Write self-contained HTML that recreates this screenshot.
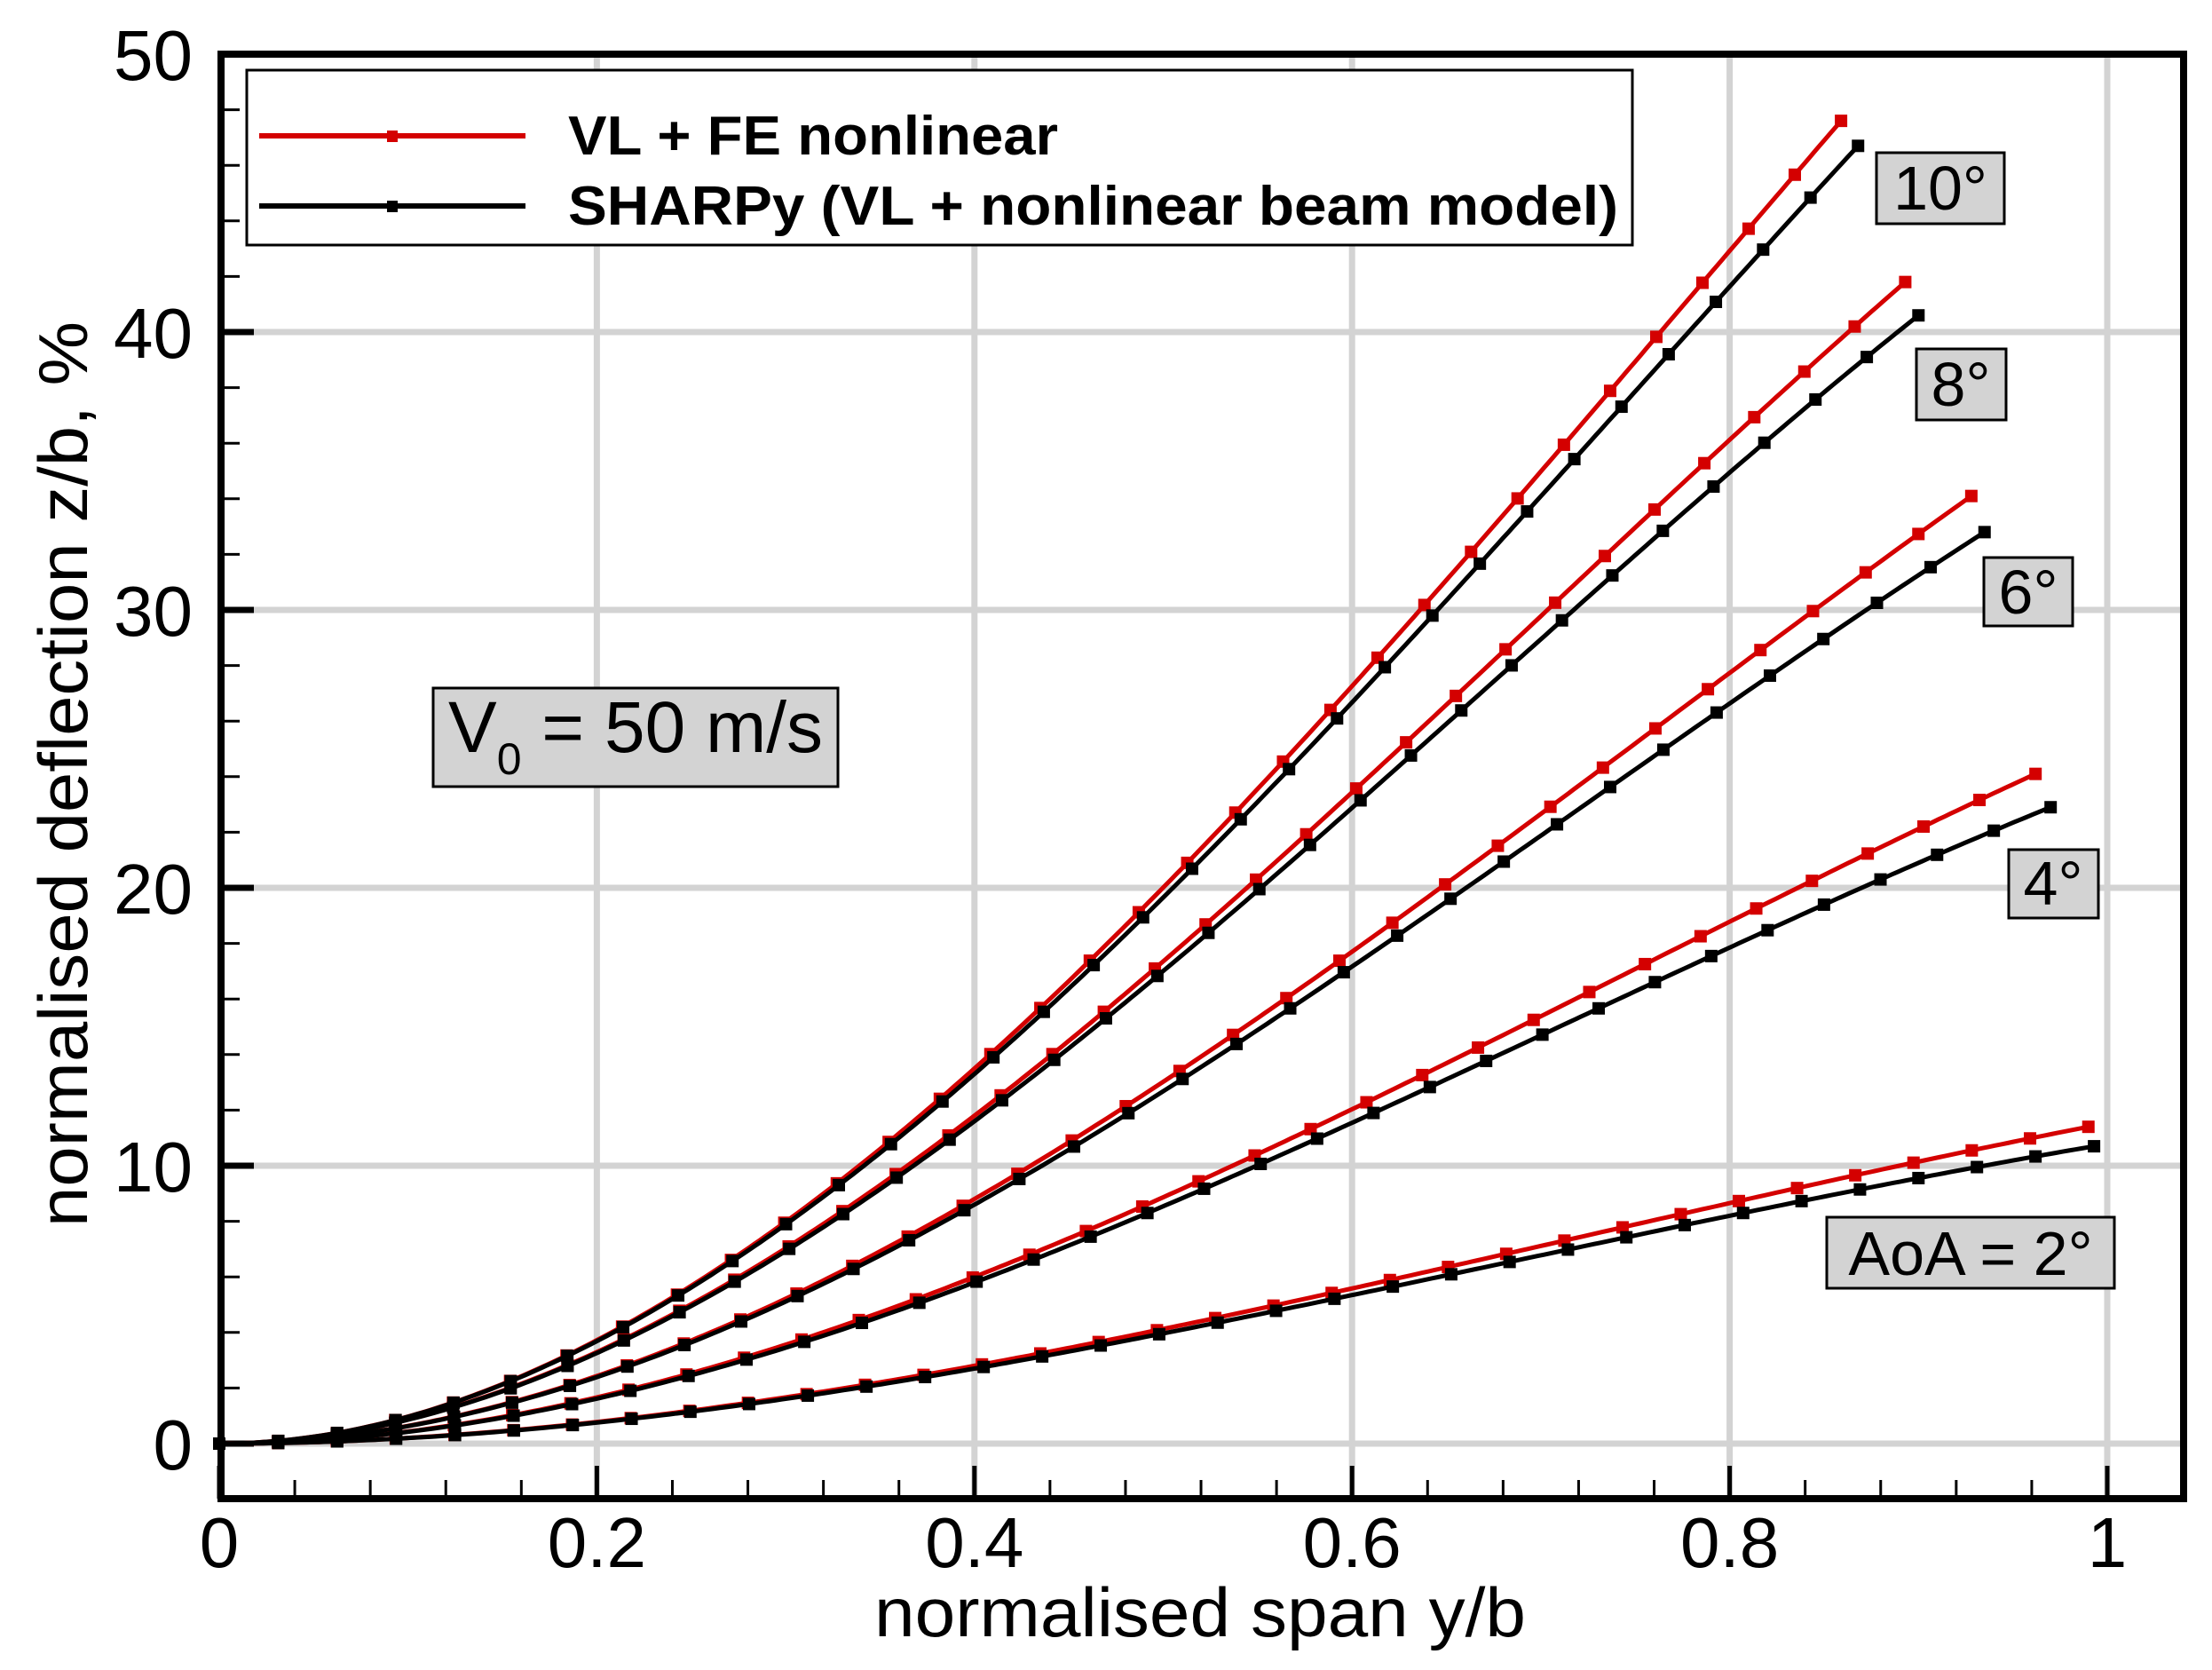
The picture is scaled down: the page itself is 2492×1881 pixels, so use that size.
<!DOCTYPE html>
<html><head><meta charset="utf-8"><style>
html,body{margin:0;padding:0;background:#fff;}
svg{display:block;}
text{font-family:"Liberation Sans",sans-serif;}
</style></head><body>
<svg id="s" width="2492" height="1881" viewBox="0 0 2492 1881" xmlns="http://www.w3.org/2000/svg">
<g id="grid" stroke="#d3d3d3" stroke-width="7"></g>
<g id="ticks" stroke="#000"></g>
<g id="curves"></g>
<rect x="249" y="61" width="2211" height="1627" fill="none" stroke="#000" stroke-width="8"/>
<g id="labels" font-size="80" fill="#000"></g>
<text x="985" y="1843" font-size="78" textLength="734" lengthAdjust="spacingAndGlyphs">normalised span y/b</text>
<text transform="translate(98,1382) rotate(-90)" font-size="78" textLength="1020" lengthAdjust="spacingAndGlyphs">normalised deflection z/b, %</text>
<!-- legend -->
<rect x="278" y="79" width="1561" height="197" fill="#fff" stroke="#000" stroke-width="3"/>
<line x1="292" y1="153" x2="592" y2="153" stroke="#d40000" stroke-width="6"/>
<rect x="436" y="147" width="12" height="13" fill="#d40000"/>
<line x1="292" y1="232" x2="592" y2="232" stroke="#000" stroke-width="6"/>
<rect x="436" y="226" width="12" height="13" fill="#000"/>
<text x="640" y="174" font-size="62" font-weight="bold" textLength="552" lengthAdjust="spacingAndGlyphs">VL + FE nonlinear</text>
<text x="640" y="253" font-size="62" font-weight="bold" textLength="1183" lengthAdjust="spacingAndGlyphs">SHARPy (VL + nonlinear beam model)</text>
<!-- annotation boxes -->
<g stroke="#000" stroke-width="3" fill="#d3d3d3">
<rect x="2114" y="172" width="144" height="80"/>
<rect x="2159" y="393" width="101" height="80"/>
<rect x="2235" y="628" width="100" height="77"/>
<rect x="2263" y="957" width="101" height="77"/>
<rect x="2058" y="1371" width="324" height="80"/>
<rect x="488" y="775" width="456" height="111"/>
</g>
<g font-size="70" text-anchor="middle">
<text x="2186" y="236">10°</text>
<text x="2209" y="457">8°</text>
<text x="2285" y="691">6°</text>
<text x="2313" y="1019">4°</text>
<text x="2220" y="1436">AoA = 2°</text>
</g>
<text x="505" y="847" font-size="82">V<tspan font-size="50" dy="25">0</tspan><tspan dy="-25"> = 50 m/s</tspan></text>
</svg>
<script>
var NS="http://www.w3.org/2000/svg";
function X(x){return 247+2127*x;}
function Y(y){return 1626-31.3*y;}
function el(p,t,a){var e=document.createElementNS(NS,t);for(var k in a)e.setAttribute(k,a[k]);document.getElementById(p).appendChild(e);return e;}
for(var i=1;i<=5;i++){el("grid","line",{x1:X(i*0.2),y1:61,x2:X(i*0.2),y2:1688});}
for(var j=0;j<=4;j++){el("grid","line",{x1:249,y1:Y(j*10),x2:2460,y2:Y(j*10)});}
for(var i=0;i<=25;i++){var x=X(i*0.04);var maj=(i%5==0);
 el("ticks","line",{x1:x,y1:1688,x2:x,y2:maj?1651:1667,"stroke-width":maj?5:3});}
for(var j=0;j<=25;j++){var y=Y(j*2);var maj=(j%5==0);
 el("ticks","line",{x1:249,y1:y,x2:maj?286:270,y2:y,"stroke-width":maj?7:3});}
var xl=["0","0.2","0.4","0.6","0.8","1"];
for(var i=0;i<6;i++){var t=el("labels","text",{x:X(i*0.2),y:1765,"text-anchor":"middle"});t.textContent=xl[i];}
for(var j=0;j<=5;j++){var t=el("labels","text",{x:217,y:Y(j*10)+29,"text-anchor":"end"});t.textContent=String(j*10);}
function fit(x1,z1,x2,z2){
 var a11=x1*x1,a12=x1*x1*x1,a21=x2*x2,a22=x2*x2*x2;var d=a11*a22-a12*a21;
 return [(z1*a22-a12*z2)/d,(a11*z2-a21*z1)/d];}
function curve(tx,tz,z4,col){
 var f=fit(0.4,z4,tx,tz);
 function z(x){return f[0]*x*x+f[1]*x*x*x;}
 var M=2000,S=[0],xs=[0];
 for(var k=1;k<=M;k++){var xa=tx*(k-1)/M,xb=tx*k/M;var dz=(z(xb)-z(xa))/100;S.push(S[k-1]+Math.sqrt((xb-xa)*(xb-xa)+dz*dz));xs.push(xb);}
 var L=S[M],N=32,pts=[],k=0;
 for(var n=0;n<=N;n++){var s=L*n/N;while(k<M&&S[k+1]<s)k++;var xx=(k>=M)?tx:xs[k]+(xs[k+1]-xs[k])*((s-S[k])/((S[k+1]-S[k])||1));pts.push([X(xx),Y(z(xx))]);}
 var d="";for(var x=0;x<=tx+1e-9;x+=tx/300){d+=(d?"L":"M")+X(x).toFixed(1)+" "+Y(z(x)).toFixed(1);}
 el("curves","path",{d:d,fill:"none",stroke:col,"stroke-width":5,"stroke-linejoin":"round"});
 pts.forEach(function(p){el("curves","rect",{x:p[0]-7,y:p[1]-7,width:14,height:14,fill:col});});
}
var red="#d40000";
[[0.859,47.6,13.5],[0.893,41.8,11.8],[0.928,34.1,8.8],[0.962,24.1,6.0],[0.99,11.4,2.8]].forEach(function(c){curve(c[0],c[1],c[2],red);});
[[0.868,46.7,13.3],[0.900,40.6,11.6],[0.935,32.8,8.6],[0.970,22.9,5.8],[0.993,10.7,2.7]].forEach(function(c){curve(c[0],c[1],c[2],"#000");});
</script>
</body></html>
